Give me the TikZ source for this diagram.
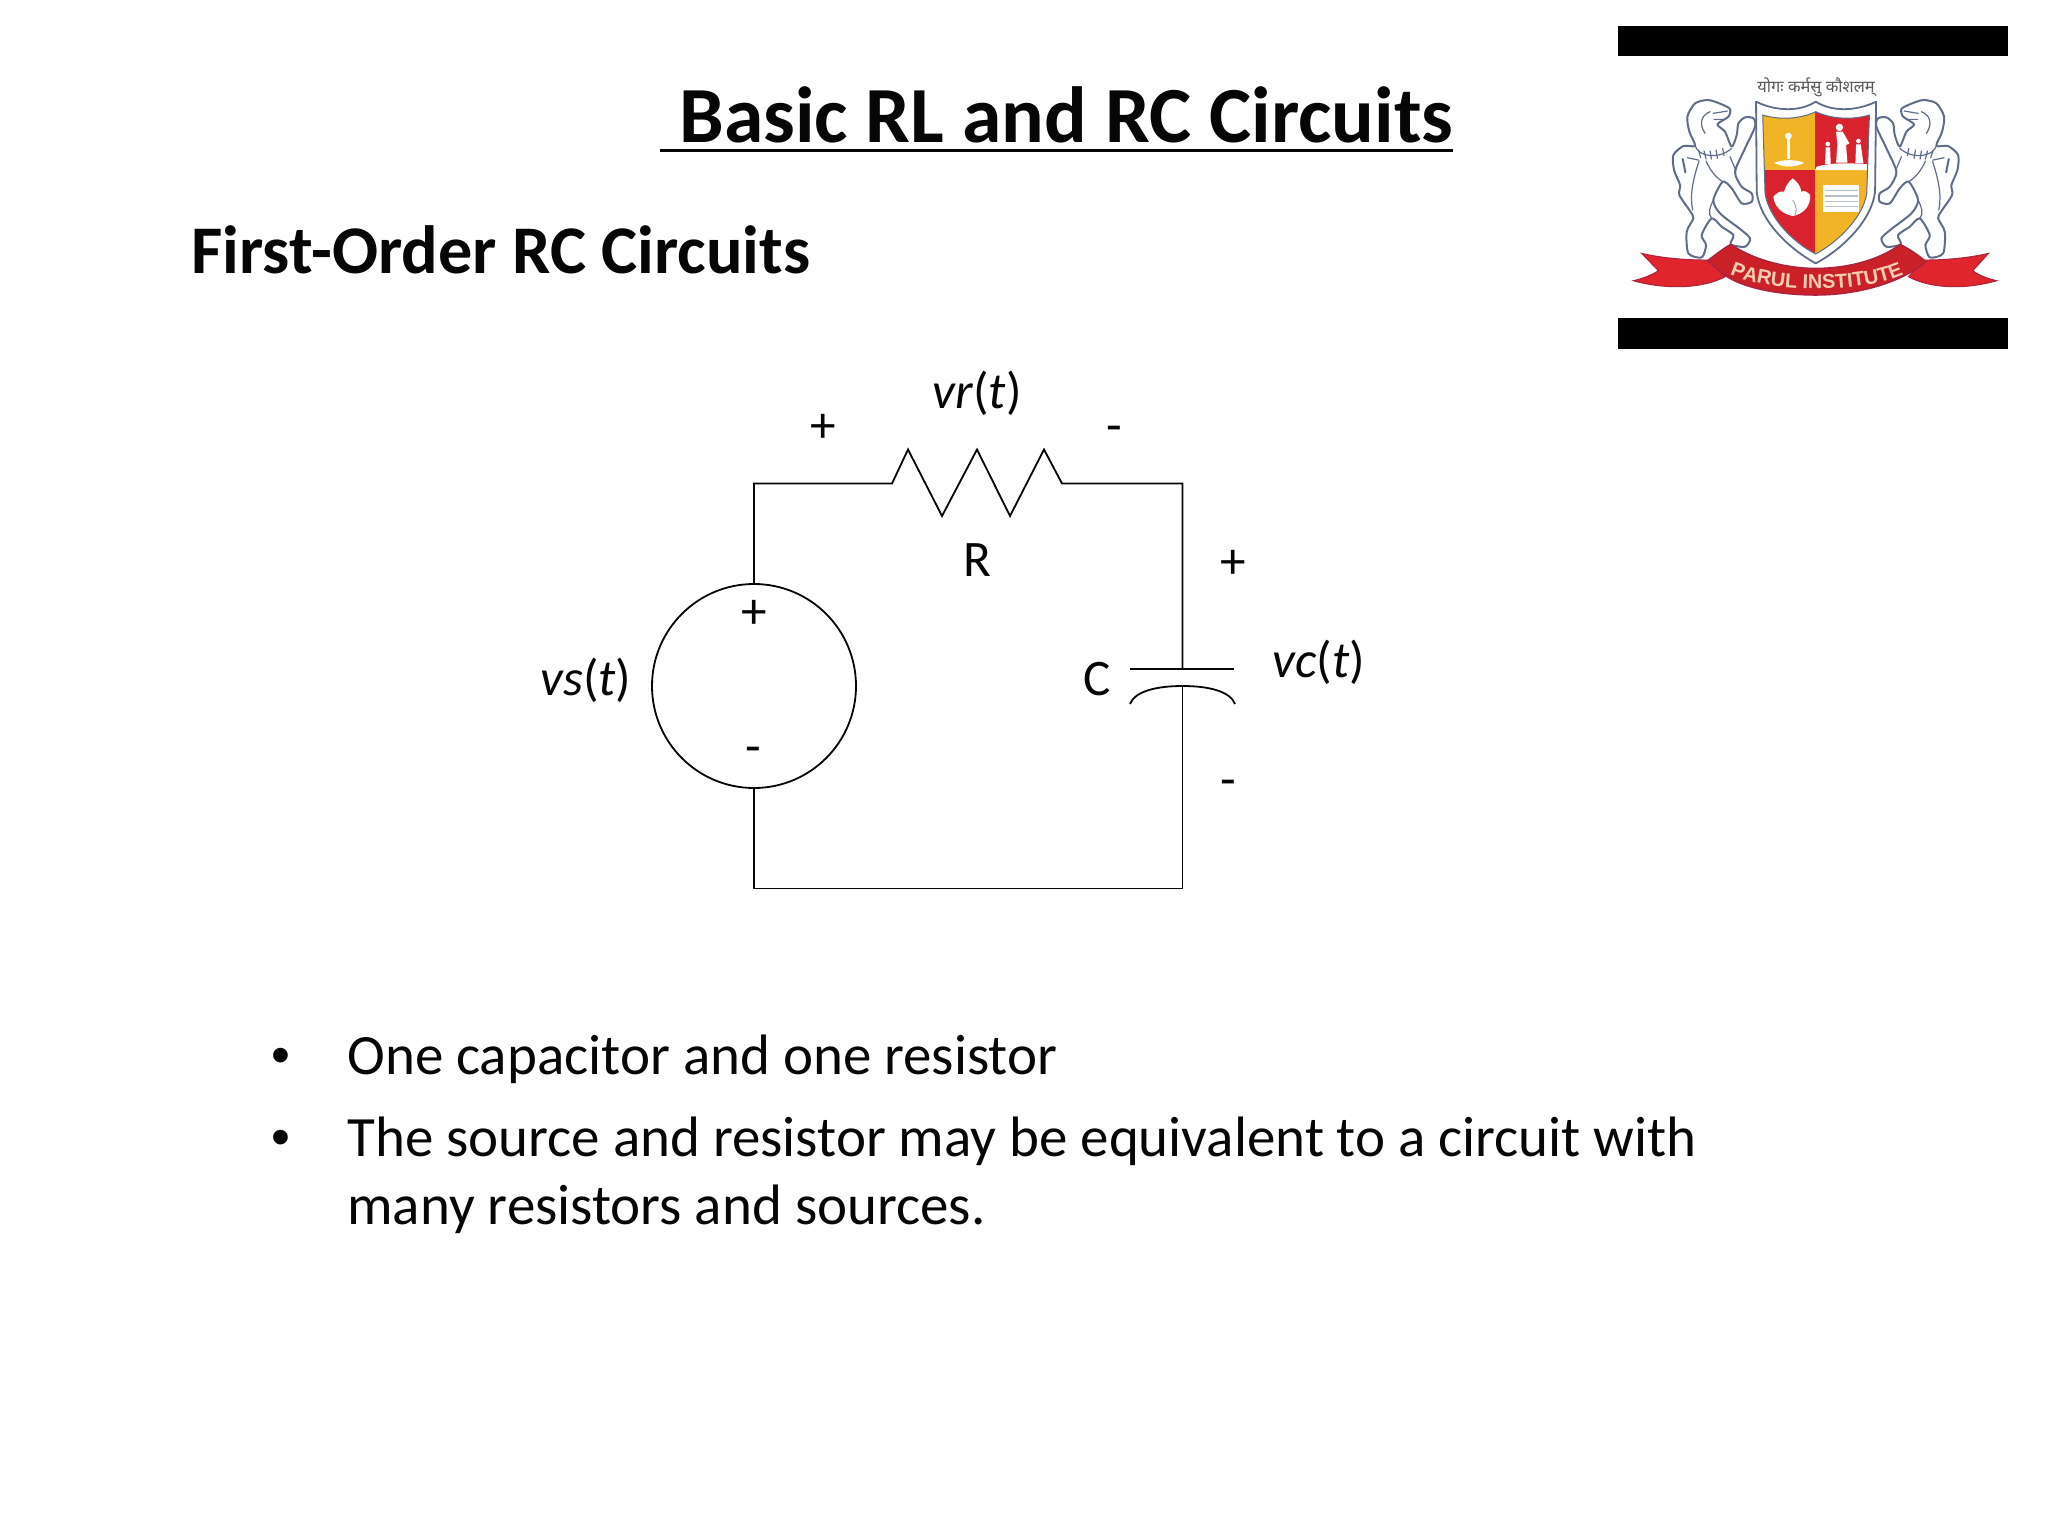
\documentclass[tikz,border=0pt]{standalone}
\usepackage{fontspec}
\setmainfont{Carlito}
\newfontfamily\devafont[Script=Devanagari]{Noto Sans}
\newfontfamily\logofont{Liberation Sans}
\usetikzlibrary{decorations.text}
\definecolor{inkline}{HTML}{060606}
\definecolor{logoblue}{HTML}{5F6E88}
\definecolor{shieldred}{HTML}{D8232F}
\definecolor{shieldyel}{HTML}{F2B427}
\definecolor{ribbonred}{HTML}{E0252D}
\definecolor{ribbondark}{HTML}{A8243F}
\definecolor{ribbontext}{HTML}{F8CDB4}
\tikzset{
  wire/.style={draw=inkline,line width=0.9pt,line join=miter},
  lbl/.style={font=\fontsize{25.6}{30}\selectfont,text=inkline,inner sep=0pt,anchor=base},
  bodytext/.style={font=\fontsize{28.5}{34}\selectfont,text=inkline,inner sep=0pt,anchor=base west},
  bulletmark/.style={font=\logofont\fontsize{27}{30}\selectfont,text=inkline,inner sep=0pt,anchor=base},
  lionline/.style={draw=logoblue,line width=1pt,fill=white,line join=round},
  liondetail/.style={draw=logoblue,line width=0.6pt,line cap=round},
  whiteicon/.style={fill=white,draw=none}
}
\newcommand{\lionshape}{%
  \begin{scope}[shift={(90,255)}]
  \path[lionline] plot[smooth cycle,tension=0.45] coordinates {
    (300,72) (275,58) (235,45) (195,55) (172,95) (178,140) (195,182)
    (160,183) (130,210) (132,255) (150,300) (148,330) (180,378) (190,400)
    (170,440) (175,505) (215,517) (228,480) (215,450) (245,400) (275,425)
    (310,450) (302,478) (345,485) (360,460) (330,432) (270,385) (250,345)
    (278,290) (305,310) (335,355) (365,350) (365,325) (335,305) (315,260)
    (345,190) (375,125) (370,100) (345,97) (325,115) (320,150) (305,185)
    (285,140) (262,118) (295,95)};
  \draw[liondetail] (195,182) .. controls (205,215) and (265,225) .. (305,190);
  \draw[liondetail] (240,80) .. controls (215,90) and (205,115) .. (225,145);
  \draw[liondetail] (250,85) -- (292,78) (252,103) -- (285,103);
  \draw[liondetail] (205,195) -- (212,218) (222,198) -- (228,222) (240,198) -- (244,222) (258,195) -- (262,220) (278,190) -- (282,212);
  \draw[logoblue,line width=1pt,line cap=round] (158,222) -- (166,262);
  \draw[liondetail] (172,218) -- (205,225);
  \draw[liondetail] (207,228) .. controls (190,280) and (178,330) .. (188,375);
  \draw[liondetail] (228,228) .. controls (240,255) and (255,275) .. (278,290);
  \draw[liondetail] (250,345) .. controls (240,365) and (232,385) .. (245,400);
  \draw[liondetail] (300,215) -- (318,258);
  \end{scope}
}
\begin{document}
\begin{tikzpicture}[x=0.5pt,y=-0.5pt]
\useasboundingbox (0,0) rectangle (2048,1536);
\fill[white] (0,0) rectangle (2048,1536);

% headings
\node[anchor=base west,inner sep=0pt,font=\fontsize{39.8}{46}\selectfont\bfseries,text=inkline] (title) at (679,142) {Basic RL and RC Circuits};
\coordinate (ulstart) at (660,150);
\coordinate (ulend) at (1453,150);
\draw[inkline,line width=1.5pt] (ulstart) -- (ulend);
\node[anchor=base west,inner sep=0pt,font=\fontsize{34.1}{40}\selectfont\bfseries,text=inkline] (subtitle) at (191,273) {First-Order RC Circuits};

% circuit
\coordinate (tl) at (754,483.5);
\coordinate (tr) at (1182.5,483.5);
\coordinate (bl) at (754,888.5);
\coordinate (br) at (1182.5,888.5);
\coordinate (resin) at (892,483.5);
\coordinate (resout) at (1062,483.5);
\coordinate (capt) at (1182.5,669);
\coordinate (capb) at (1182.5,686);
\coordinate (capl) at (1130,669);
\coordinate (capr) at (1234,669);
\coordinate (arcl) at (1130,704);
\coordinate (arcr) at (1235,704);
\node[circle,wire,fill=none,minimum size=102pt,inner sep=0pt] (vs) at (754,686) {};
\draw[wire] (vs.north) -- (tl) -- (resin) -- (908,449.5) -- (942,516) -- (977,449.5) -- (1010,516) -- (1044,449.5) -- (resout) -- (tr) -- (capt);
\draw[wire] (capb) -- (br) -- (bl) -- (vs.south);
\draw[wire] (capl) -- (capr);
\draw[wire] (arcl) .. controls (1135,691) and (1157,686) .. (capb) .. controls (1208,686) and (1230,691) .. (arcr);

% circuit labels
\node[lbl] (vrlabel) at (977,408) {\textit{vr}(\textit{t})};
\node[lbl] (plusr) at (823,442) {+};
\node[lbl] (minusr) at (1114,442) {-};
\node[lbl] (rlabel) at (977,576) {R};
\node[lbl] (plusc) at (1233,578) {+};
\node[lbl] (vclabel) at (1319,677) {\textit{vc}(\textit{t})};
\node[lbl] (clabel) at (1097,695) {C};
\node[lbl] (minusc) at (1228,796) {-};
\node[lbl] (pluss) at (754,628) {+};
\node[lbl] (minuss) at (753,763) {-};
\node[lbl] (vslabel) at (586,695) {\textit{vs}(\textit{t})};

% bullets
\node[bulletmark] (b1dot) at (281,1073) {•};
\node[bodytext] (b1) at (347,1074) {One capacitor and one resistor};
\node[bulletmark] (b2dot) at (281,1155) {•};
\node[bodytext] (b2) at (347,1156) {The source and resistor may be equivalent to a circuit with};
\node[bodytext] (b3) at (347,1224) {many resistors and sources.};

% logo
\fill[black] (1618,26) rectangle (2008,56);
\fill[black] (1618,318) rectangle (2008,349);
\begin{scope}[shift={(1600,0)},x=0.1667pt,y=-0.1667pt]
  \node[inner sep=0pt,font=\devafont\fontsize{8.2}{10}\selectfont,text=black!65] (motto) at (648,262) {योगः कर्मसु कौशलम्};
  % lions
  \lionshape
  \begin{scope}[shift={(1294,0)},xscale=-1]
    \lionshape
  \end{scope}
  % shield
  \path[draw=logoblue,line width=0.9pt,fill=white,line join=round] (468,305)
    .. controls (530,335) and (600,335) .. (647,305)
    .. controls (695,335) and (765,335) .. (828,305)
    -- (825,575) .. controls (815,660) and (730,745) .. (647,790)
    .. controls (565,745) and (478,660) .. (470,575) -- cycle;
  \begin{scope}
    \clip (488,345) .. controls (545,362) and (605,355) .. (647,335)
      .. controls (690,355) and (750,362) .. (808,345)
      -- (800,580) .. controls (790,650) and (715,725) .. (647,762)
      .. controls (575,725) and (505,650) .. (495,580) -- cycle;
    \fill[shieldyel] (480,320) rectangle (645,510);
    \fill[shieldred] (645,320) rectangle (815,510);
    \fill[shieldred] (480,510) rectangle (645,770);
    \fill[shieldyel] (645,510) rectangle (815,770);
    \path[whiteicon] (645,510) -- (815,510) -- (815,494) .. controls (770,490) and (700,485) .. (650,500) -- cycle;
  \end{scope}
  \path[draw=logoblue,line width=0.5pt] (488,345) .. controls (545,362) and (605,355) .. (647,335)
      .. controls (690,355) and (750,362) .. (808,345)
      -- (800,580) .. controls (790,650) and (715,725) .. (647,762)
      .. controls (575,725) and (505,650) .. (495,580) -- cycle;
  % lamp
  \fill[white] (565,408) circle (10);
  \path[whiteicon] (560,415) -- (570,415) -- (570,478) -- (560,478) -- cycle;
  \path[whiteicon] (522,488) .. controls (550,478) and (585,478) .. (612,488) .. controls (590,503) and (545,503) .. (522,488) -- cycle;
  % figures
  \fill[white] (718,382) circle (11);
  \path[whiteicon] (708,395) -- (728,395) -- (748,430) -- (738,435) -- (742,488) -- (708,488) -- (712,432) -- cycle;
  \fill[white] (683,432) circle (7);
  \path[whiteicon] (677,442) -- (690,442) -- (692,492) -- (675,492) -- cycle;
  \fill[white] (775,423) circle (7);
  \path[whiteicon] (768,433) -- (782,433) -- (790,490) -- (766,490) -- cycle;
  % lotus
  \path[whiteicon] (578,535) .. controls (592,545) and (602,560) .. (604,575)
    .. controls (612,570) and (622,575) .. (630,585)
    .. controls (632,615) and (615,640) .. (578,648)
    .. controls (540,640) and (522,615) .. (520,590)
    .. controls (530,578) and (540,572) .. (552,575)
    .. controls (556,560) and (565,545) .. (578,535) -- cycle;
  \draw[logoblue!60,line width=0.5pt] (578,600) .. controls (590,620) and (590,630) .. (585,648);
  % book
  \fill[white] (670,555) rectangle (778,635);
  \foreach \ypos in {572,588,604,620}
    \draw[logoblue!45,line width=0.6pt] (674,\ypos) -- (774,\ypos);
  % ribbon tails
  \path[fill=ribbonred,draw=ribbondark,line width=0.5pt] (125,760) .. controls (190,775) and (260,780) .. (325,780)
    -- (375,830) .. controls (310,865) and (200,870) .. (100,842)
    .. controls (130,835) and (155,825) .. (175,812) -- cycle;
  \path[fill=ribbonred,draw=ribbondark,line width=0.5pt] (1165,760) .. controls (1100,775) and (1030,780) .. (970,780)
    -- (925,830) .. controls (990,865) and (1090,870) .. (1190,842)
    .. controls (1160,835) and (1135,825) .. (1118,812) -- cycle;
  % ribbon band
  \path[fill=ribbonred!90!black,draw=ribbondark,line width=0.7pt] (322,782)
    .. controls (345,765) and (370,745) .. (392,733)
    .. controls (470,785) and (570,805) .. (647,805)
    .. controls (730,805) and (830,785) .. (900,733)
    .. controls (925,745) and (955,765) .. (978,785)
    .. controls (900,850) and (770,885) .. (647,885)
    .. controls (540,885) and (430,865) .. (375,826) -- cycle;
  \path[postaction={decorate,decoration={text along path,text align=center,
      text={|\logofont\bfseries\fontsize{10}{12}\selectfont\color{ribbontext}|PARUL INSTITUTE}}}]
    (375,815) .. controls (490,882) and (810,882) .. (925,815);
\end{scope}
\end{tikzpicture}
\end{document}
